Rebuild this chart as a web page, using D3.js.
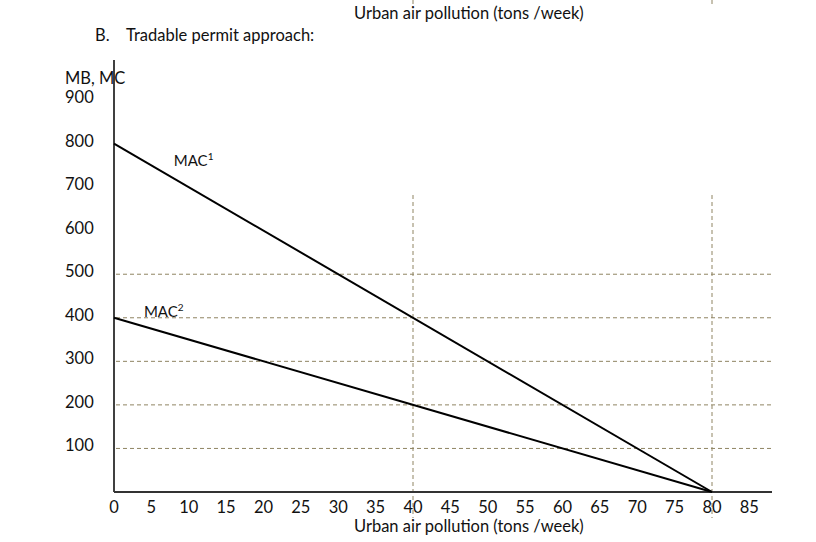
<!DOCTYPE html>
<html>
<head>
<meta charset="utf-8">
<script src="https://cdn.jsdelivr.net/npm/d3@7"></script>
<style>
  body { margin: 0; background: #fff; }
  text { font-family: Lato, "Open Sans", sans-serif; fill: #111; }
</style>
</head>
<body>
<div id="chart"></div>
<script>
"use strict";
// curves: marginal abatement cost for the two sources
const mac1 = [{ q: 0, p: 800 }, { q: 80, p: 0 }];
const mac2 = [{ q: 0, p: 400 }, { q: 80, p: 0 }];
const xTicks = [0, 5, 10, 15, 20, 25, 30, 35, 40, 45, 50, 55, 60, 65, 70, 75, 80, 85];
const yTicks = [100, 200, 300, 400, 500, 600, 700, 800, 900];
const hGrid = [100, 200, 300, 400, 500];
const vGrid = [40, 80];

const width = 816;
const height = 542;
const fs = '16.5px';

const x = d3.scaleLinear().domain([0, 80]).range([114, 712]);
const y = d3.scaleLinear().domain([0, 900]).range([492, 100]);

const svg = d3.select('#chart').append('svg')
    .attr('width', width)
    .attr('height', height);

const gridColor = '#8f8462';

// leftover text from the figure above
svg.append('text')
    .attr('x', 354).attr('y', 19)
    .style('font-size', fs)
    .text('Urban air pollution (tons /week)');
svg.selectAll('.top-tick')
    .data(vGrid)
    .enter().append('line')
    .attr('x1', d => x(d)).attr('x2', d => x(d))
    .attr('y1', 0).attr('y2', 4)
    .attr('stroke', gridColor);

svg.append('text')
    .attr('x', 95).attr('y', 41)
    .style('font-size', fs)
    .attr('xml:space', 'preserve')
    .text('B.    Tradable permit approach:');

// dashed guide lines
svg.selectAll('.hgrid')
    .data(hGrid)
    .enter().append('line')
    .attr('x1', x(0) + 2).attr('x2', 773)
    .attr('y1', d => y(d)).attr('y2', d => y(d))
    .attr('stroke', gridColor)
    .attr('stroke-dasharray', '4,3');
svg.selectAll('.vgrid')
    .data(vGrid)
    .enter().append('line')
    .attr('x1', d => x(d)).attr('x2', d => x(d))
    .attr('y1', 195).attr('y2', 518)
    .attr('stroke', gridColor)
    .attr('stroke-dasharray', '4,3');

// axes
svg.append('line')
    .attr('x1', x(0)).attr('x2', x(0))
    .attr('y1', 60).attr('y2', y(0))
    .attr('stroke', '#000').attr('stroke-width', 1.5);
svg.append('line')
    .attr('x1', x(0)).attr('x2', 772)
    .attr('y1', y(0)).attr('y2', y(0))
    .attr('stroke', '#333').attr('stroke-width', 1.8);

svg.selectAll('.ylab')
    .data(yTicks)
    .enter().append('text')
    .attr('x', 65)
    .attr('y', d => y(d) + 3)
    .style('font-size', fs)
    .text(d => d);
svg.append('text')
    .attr('x', 65).attr('y', 84)
    .style('font-size', fs)
    .text('MB, MC');

svg.selectAll('.xlab')
    .data(xTicks)
    .enter().append('text')
    .attr('x', d => x(d))
    .attr('y', 513)
    .attr('text-anchor', 'middle')
    .style('font-size', fs)
    .text(d => d);
svg.append('text')
    .attr('x', 354).attr('y', 532)
    .style('font-size', fs)
    .text('Urban air pollution (tons /week)');

// curves
const line = d3.line().x(d => x(d.q)).y(d => y(d.p));
[mac1, mac2].forEach(s => {
    svg.append('path')
        .attr('d', line(s))
        .attr('fill', 'none')
        .attr('stroke', '#000')
        .attr('stroke-width', 2);
});

const labels = [
    { name: 'MAC', sup: '1', q: 8, p: 748 },
    { name: 'MAC', sup: '2', q: 4, p: 402 }
];
labels.forEach(l => {
    const t = svg.append('text')
        .attr('x', x(l.q)).attr('y', y(l.p))
        .style('font-size', '15px')
        .text(l.name);
    t.append('tspan')
        .attr('dy', -6)
        .style('font-size', '10px')
        .text(l.sup);
});
</script>
</body>
</html>
